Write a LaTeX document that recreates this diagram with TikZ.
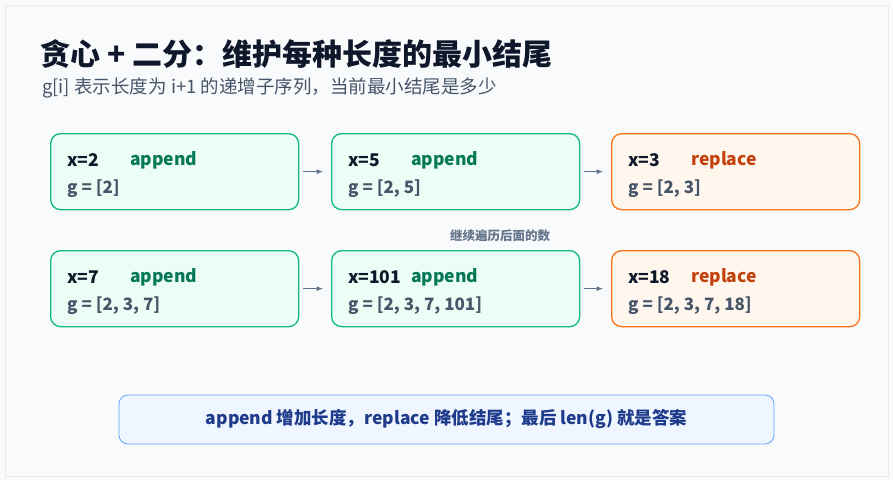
\documentclass[tikz,border=0pt]{standalone}
\usepackage{fontspec}
\setmainfont{Noto Sans CJK SC}
\usetikzlibrary{positioning}
\definecolor{bgc}{HTML}{F8FAFC}
\definecolor{ink}{HTML}{0F172A}
\definecolor{subc}{HTML}{475569}
\definecolor{gfill}{HTML}{ECFDF5}
\definecolor{gline}{HTML}{10B981}
\definecolor{gtext}{HTML}{047857}
\definecolor{ofill}{HTML}{FFF7ED}
\definecolor{oline}{HTML}{F97316}
\definecolor{otext}{HTML}{C2410C}
\definecolor{arrc}{HTML}{64748B}
\definecolor{bfill}{HTML}{EFF6FF}
\definecolor{bline}{HTML}{60A5FA}
\definecolor{btext}{HTML}{1E3A8A}
\tikzstyle{visit}=[draw, line width=1.3pt, rounded corners=10pt, minimum width=248pt, minimum height=76pt, anchor=north west]
\tikzstyle{keep}=[visit, fill=gfill, draw=gline]
\tikzstyle{swap}=[visit, fill=ofill, draw=oline]
\tikzstyle{xval}=[anchor=west, font=\fontsize{17.5}{20}\selectfont\bfseries, text=ink, inner sep=0pt]
\tikzstyle{gval}=[anchor=west, font=\fontsize{17}{20}\selectfont\bfseries, text=subc, inner sep=0pt]
\tikzstyle{flow}=[->, >=latex, draw=arrc, line width=1.2pt, shorten >=8pt, shorten <=4pt]
\begin{document}
\begin{tikzpicture}[x=1pt, y=-1pt]
	% page
	\fill[bgc] (0,0) rectangle (893,480);
	\draw[black!8] (5,5) rectangle (888,476);
	\useasboundingbox (0,0) rectangle (893,480);
	% title
	\node (title)[anchor=west, inner sep=0pt, text=ink, font=\fontsize{30}{34}\selectfont\bfseries] at (40,54) {贪心\ + 二分：维护每种长度的最小结尾};
	\node (sub)[anchor=west, inner sep=0pt, text=subc, font=\fontsize{18.5}{22}\selectfont] at (42,88) {g[i] 表示长度为 i+1 的递增子序列，当前最小结尾是多少};
	% boxes
	\foreach \name/\sty/\bx/\by/\xv/\act/\ac/\gv in {
	    a1/keep/50/133/2/append/gtext/{[2]},
	    a2/keep/331/133/5/append/gtext/{[2, 5]},
	    a3/swap/611/133/3/replace/otext/{[2, 3]},
	    b1/keep/50/250/7/append/gtext/{[2, 3, 7]},
	    b2/keep/331/250/101/append/gtext/{[2, 3, 7, 101]},
	    b3/swap/611/250/18/replace/otext/{[2, 3, 7, 18]}}{
	    \node (\name)[\sty] at (\bx,\by) {};
	    \node (\name x)[xval] at ([xshift=17pt,yshift=-27pt]\name.north west) {x=\xv};
	    \node (\name a)[xval, text=\ac] at ([xshift=80pt,yshift=-27pt]\name.north west) {\act};
	    \node (\name g)[gval] at ([xshift=17pt,yshift=-56pt]\name.north west) {g = \gv};
	}
	% edges
	\draw[flow] (a1) -- (a2);
	\draw[flow] (a2) -- (a3);
	\draw[flow] (b1) -- (b2);
	\draw[flow] (b2) -- (b3);
	\node (more)[text=arrc, font=\fontsize{12.5}{14}\selectfont\bfseries] at (500,236) {继续遍历后面的数};
	% summary
	\node (sum)[draw=bline, fill=bfill, line width=0.8pt, rounded corners=9pt, minimum width=655pt, minimum height=49pt, text=btext, font=\fontsize{17.5}{20}\selectfont\bfseries] at (446.5,419.5) {append 增加长度，replace 降低结尾；最后 len(g) 就是答案};
\end{tikzpicture}
\end{document}
